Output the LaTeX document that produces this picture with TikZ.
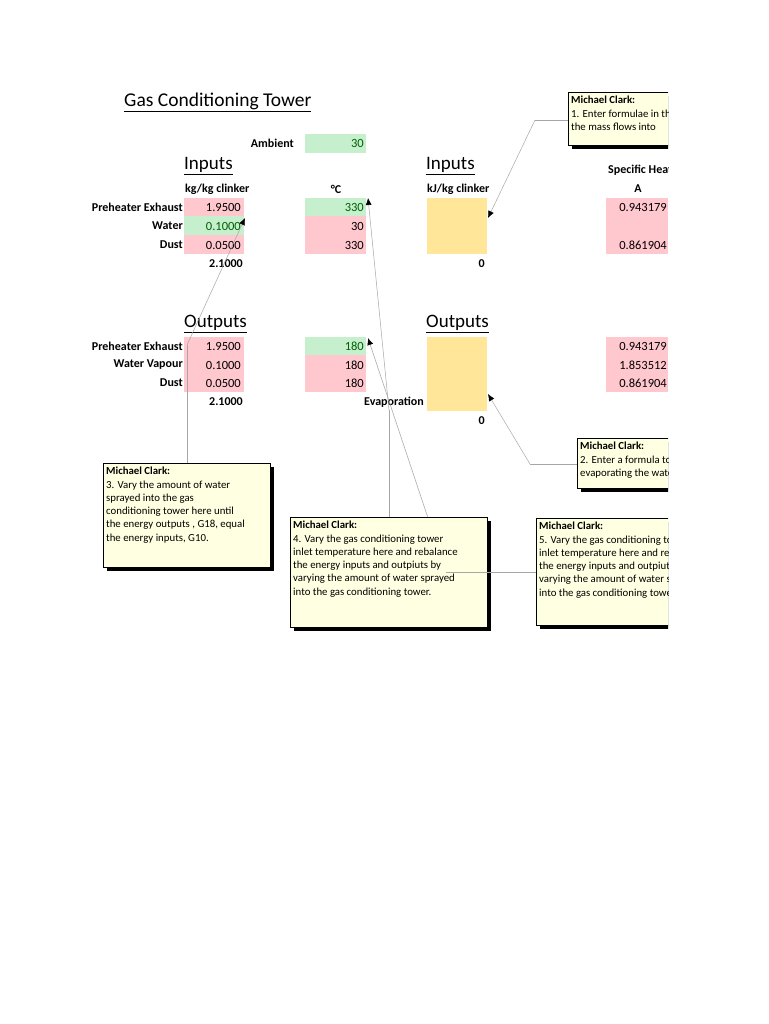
\documentclass[tikz,border=0pt]{standalone}
\usepackage{fontspec}
\setmainfont{Carlito}
\usetikzlibrary{arrows.meta}
\begin{document}
\begin{tikzpicture}[x=1pt,y=-1pt,
  cell/.style={inner sep=0pt,anchor=east,font=\fontsize{12.5}{14}\selectfont},
  lab/.style={inner sep=0pt,anchor=east,font=\bfseries\fontsize{12}{14}\selectfont},
  hd/.style={inner sep=0pt,font=\bfseries\fontsize{12}{14}\selectfont},
  big/.style={inner sep=0pt,anchor=west,font=\fontsize{19}{22}\selectfont},
  ctext/.style={inner sep=0pt,anchor=north west,align=left,font=\fontsize{10.8}{13.3}\selectfont},
  con/.style={draw=gray!70,line width=0.5pt},
  arr/.style={con,-{Latex[length=7pt,width=6pt,black]}}]
\definecolor{gr}{HTML}{C6EFCE}\definecolor{pk}{HTML}{FFC7CE}\definecolor{yl}{HTML}{FFE699}
\definecolor{dg}{HTML}{006100}\definecolor{note}{HTML}{FFFFE1}
\useasboundingbox[fill=white] (0,0) rectangle (768,1024);
% title
\node[big,font=\fontsize{19.5}{22}\selectfont] (title) at (124,102) {\underline{Gas Conditioning Tower}};
\node[lab] (amb) at (294,143) {Ambient};
\fill[gr] (305,134) rectangle (366,153);
\node[cell,text=dg] (ambv) at (364,143.5) {30};
\node[big] (in1) at (184,166) {\underline{Inputs}};
\node[big] (in2) at (426,166) {\underline{Inputs}};
\node[hd,anchor=west] (h1) at (185,189) {kg/kg clinker};
\node[hd] (h2) at (336,189) {°C};
\node[hd,anchor=west] (h3) at (427,189) {kJ/kg clinker};
\begin{scope}
\clip (0,0) rectangle (668,1024);
\node[hd,anchor=west] (h4) at (608,170) {Specific Heat};
\end{scope}
\node[hd] (h5) at (638,189) {A};
% input cells
\fill[pk] (184,198) rectangle (244,216);
\fill[gr] (184,216) rectangle (244,235);
\fill[pk] (184,235) rectangle (244,254);
\fill[gr] (305,198) rectangle (366,216);
\fill[pk] (305,216) rectangle (366,254);
\fill[yl] (427,198) rectangle (487,254);
\fill[pk] (606,198) rectangle (668,254);
\node[lab] (l1) at (183,207) {Preheater Exhaust};
\node[lab] (l2) at (183,226) {Water};
\node[lab] (l3) at (183,245) {Dust};
\node[cell] (a1) at (241,207) {1.9500};
\node[cell,text=dg] (a2) at (241,226) {0.1000};
\node[cell] (a3) at (241,245) {0.0500};
\node[cell,text=dg] (b1) at (364,207) {330};
\node[cell] (b2) at (364,226) {30};
\node[cell] (b3) at (364,245) {330};
\node[cell] (d1) at (667,207) {0.943179};
\node[cell] (d3) at (667,245) {0.861904};
\node[lab] (t1) at (243,264) {2.1000};
\node[lab] (t2) at (485,264) {0};
% outputs
\node[big] (o1) at (184,324) {\underline{Outputs}};
\node[big] (o2) at (426,324) {\underline{Outputs}};
\fill[pk] (184,337) rectangle (244,392);
\fill[gr] (305,337) rectangle (366,355);
\fill[pk] (305,355) rectangle (366,392);
\fill[yl] (427,337) rectangle (487,411);
\fill[pk] (606,337) rectangle (668,392);
\node[lab] (m1) at (183,346) {Preheater Exhaust};
\node[lab] (m2) at (183,365) {Water Vapour};
\node[lab] (m3) at (183,383) {Dust};
\node[cell] (e1) at (241,346) {1.9500};
\node[cell] (e2) at (241,365) {0.1000};
\node[cell] (e3) at (241,383) {0.0500};
\node[cell,text=dg] (f1) at (364,346) {180};
\node[cell] (f2) at (364,365) {180};
\node[cell] (f3) at (364,383) {180};
\node[cell] (g1) at (667,346) {0.943179};
\node[cell] (g2) at (667,365) {1.853512};
\node[cell] (g3) at (667,383) {0.861904};
\node[lab] (u1) at (243,402) {2.1000};
\node[lab] (ev) at (424,402) {Evaporation};
\node[lab] (u2) at (485,421) {0};
% connectors
\coordinate (k1) at (535,120); \coordinate (p1) at (488,218);
\coordinate (k2) at (530,464); \coordinate (p2) at (488,394);
\coordinate (k3) at (187,345); \coordinate (p3) at (245,218);
\coordinate (k4) at (389,410); \coordinate (p4) at (368,198);
\coordinate (k5) at (446,572); \coordinate (p5) at (368,338);
\draw[con] (568,120) -- (k1); \draw[arr] (k1) -- (p1);
\draw[con] (577,464) -- (k2); \draw[arr] (k2) -- (p2);
\draw[con] (187,463) -- (k3); \draw[arr] (k3) -- (p3);
\draw[con] (389,517) -- (k4); \draw[arr] (k4) -- (p4);
\draw[arr] (k5) -- (p5);
% comment boxes
\begin{scope}
\clip (0,0) rectangle (668,1024);
\foreach \x/\y/\X/\Y in {568/92/700/145, 577/438/700/488, 103/463/270/567, 290/517/487/627, 536/518/700/625}{
  \fill[black] (\x+4,\y+4) rectangle (\X+4,\Y+4);
  \filldraw[fill=note,draw=black,line width=0.6pt] (\x,\y) rectangle (\X,\Y);}
\node[ctext] (c1) at (571,96) {\textbf{Michael Clark:}\\1. Enter formulae in the cells to calculate\\the mass flows into};
\node[ctext] (c2) at (580,442) {\textbf{Michael Clark:}\\2. Enter a formula to calculate the\\evaporating the water};
\node[ctext] (c3) at (106,467) {\textbf{Michael Clark:}\\3. Vary the amount of water\\sprayed into the gas\\conditioning tower here until\\the energy outputs , G18, equal\\the energy inputs, G10.};
\node[ctext] (c4) at (293,521) {\textbf{Michael Clark:}\\4. Vary the gas conditioning tower\\inlet temperature here and rebalance\\the energy inputs and outpiuts by\\varying the amount of water sprayed\\into the gas conditioning tower.};
\node[ctext] (c5) at (539,522) {\textbf{Michael Clark:}\\5. Vary the gas conditioning tower\\inlet temperature here and rebalance\\the energy inputs and outpiuts by\\varying the amount of water sprayed\\into the gas conditioning tower.};
\end{scope}
\draw[con] (k5) -- (536,572);
\end{tikzpicture}
\end{document}
